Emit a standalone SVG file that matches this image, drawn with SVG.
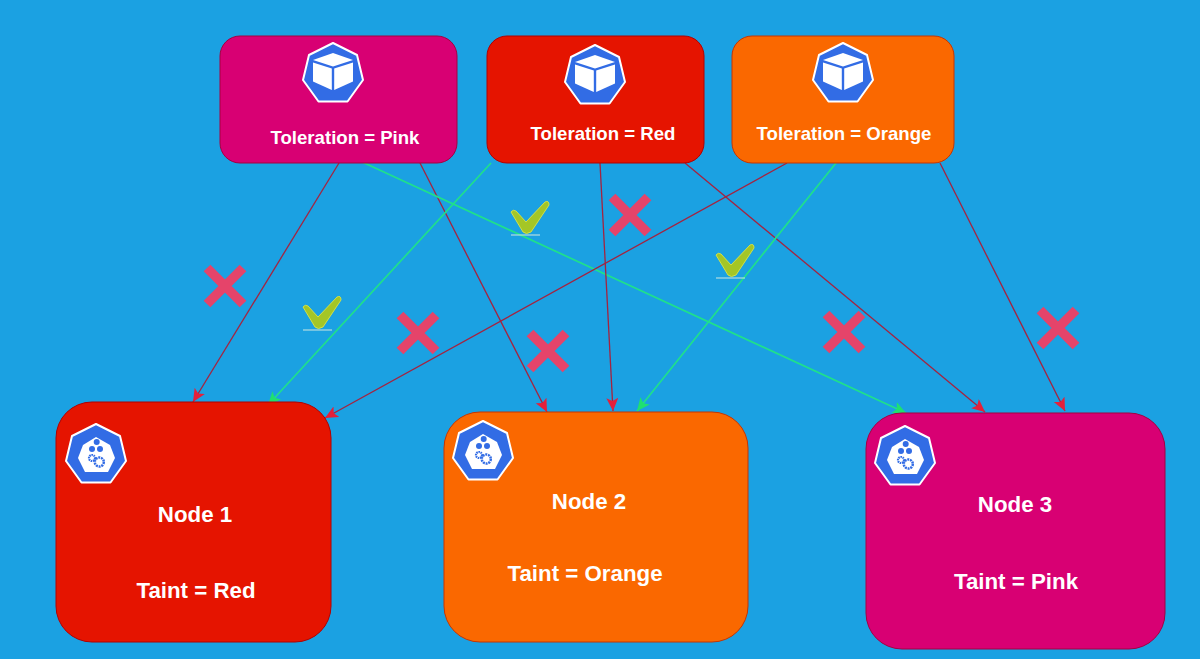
<svg xmlns="http://www.w3.org/2000/svg" width="1200" height="659" viewBox="0 0 1200 659">
<style>
.t{font-family:"Liberation Sans",Arial,sans-serif;font-weight:700;fill:#fff;text-anchor:middle}
.s{font-size:18.600px}.b{font-size:22.300px}
.red{stroke:#a5233f;stroke-width:1.300;fill:none;marker-end:url(#ar)}
.grn{stroke:#1fe08c;stroke-width:1.700;fill:none;marker-end:url(#ag)}
.x{stroke:#e5446a;stroke-width:9.500;fill:none}
.hp{fill:#326ce5;stroke:#fff;stroke-width:2;stroke-linejoin:round}
</style>
<defs>
<marker id="ar" markerUnits="userSpaceOnUse" markerWidth="16" markerHeight="14" refX="13" refY="6" orient="auto"><path d="M0 0L13 6L0 12L3 6Z" fill="#e5203a"/></marker>
<marker id="ag" markerUnits="userSpaceOnUse" markerWidth="16" markerHeight="14" refX="13" refY="6" orient="auto"><path d="M0 0L13 6L0 12L3 6Z" fill="#1fe070"/></marker>
<g id="pod">
<path class="hp" d="M0-30L24-18L30 7L14.500 28.500L-14.500 28.500L-30 7L-24-18Z"/>
<path d="M0-20L20-13L0-6.500L-20-13Z" fill="#fff"/>
<path d="M-20-10.500L-1.200-4.500L-1.200 17L-20 8.500Z" fill="#fff"/>
<path d="M20-10.500L1.200-4.500L1.200 17L20 8.500Z" fill="#fff"/>
</g>
<g id="nd">
<path class="hp" d="M0-30L24-18L30 7L14.500 28.500L-14.500 28.500L-30 7L-24-18Z"/>
<path d="M0-17L14-9L19 4L12 18L-11 18L-18 4L-13-9Z" fill="#fff"/>
<circle cx="0.700" cy="-12" r="3" fill="#326ce5"/><circle cx="-4" cy="-5" r="3" fill="#326ce5"/><circle cx="4" cy="-5" r="3" fill="#326ce5"/>
<circle cx="-4" cy="4" r="3" fill="none" stroke="#326ce5" stroke-width="2.200" stroke-dasharray="1.500 .7"/><circle cx="3.300" cy="8" r="4.500" fill="none" stroke="#326ce5" stroke-width="2.500" stroke-dasharray="2 .8"/>
</g>
<g id="chk">
<path d="M-18-7Q-16-10-13-8L-3 3L16-17Q20-19 20-14L2 13Q-3 16-6 13Z" fill="#a4c626" stroke="#cfe04a" stroke-width="1"/>
<path d="M-18 16H11" stroke="#cfe8e0" stroke-width="1"/>
</g>
<path id="xm" class="x" d="M-18-18L18 18M18-18L-18 18"/>
</defs>
<rect width="1200" height="659" fill="#1ba1e2"/>
<g id="connectors">
<path class="red" d="M339 163L193 402"/>
<path class="red" d="M420 163L547 412"/>
<path class="grn" d="M360 161L906 413"/>
<path class="grn" d="M491 163L268 405"/>
<path class="red" d="M600 163L613 411"/>
<path class="red" d="M685 163L985 412"/>
<path class="red" d="M787 163L325 418"/>
<path class="grn" d="M836 163L637 411"/>
<path class="red" d="M940 163L1065 411"/>
</g>
<g id="pod-pink"><rect x="220" y="36" width="237" height="127" rx="20" fill="#d80073" stroke="#a50040"/><use href="#pod" x="333" y="73"/><text class="t s" x="345" y="144">Toleration = Pink</text></g>
<g id="pod-red"><rect x="487" y="36" width="217" height="127" rx="20" fill="#e51400" stroke="#b20000"/><use href="#pod" x="595" y="75"/><text class="t s" x="603" y="140">Toleration = Red</text></g>
<g id="pod-orange"><rect x="732" y="36" width="222" height="127" rx="20" fill="#fa6800" stroke="#c73500"/><use href="#pod" x="843" y="73"/><text class="t s" x="844" y="140">Toleration = Orange</text></g>
<g id="node-1"><rect x="56" y="402" width="275" height="240" rx="36" fill="#e51400" stroke="#b20000"/><use href="#nd" x="96" y="454"/><text class="t b" x="195" y="522">Node 1</text><text class="t b" x="196" y="598">Taint = Red</text></g>
<g id="node-2"><rect x="444" y="412" width="304" height="230" rx="36" fill="#fa6800" stroke="#c73500"/><use href="#nd" x="483" y="451"/><text class="t b" x="589" y="509">Node 2</text><text class="t b" x="585" y="581">Taint = Orange</text></g>
<g id="node-3"><rect x="866" y="413" width="299" height="236" rx="36" fill="#d80073" stroke="#a50040"/><use href="#nd" x="905" y="456"/><text class="t b" x="1015" y="512">Node 3</text><text class="t b" x="1016" y="589">Taint = Pink</text></g>
<use href="#xm" x="225" y="286"/>
<use href="#xm" x="418" y="333"/>
<use href="#xm" x="548" y="351"/>
<use href="#xm" x="630" y="215"/>
<use href="#xm" x="844" y="332"/>
<use href="#xm" x="1058" y="328"/>
<use href="#chk" x="321" y="314"/>
<use href="#chk" x="529" y="219"/>
<use href="#chk" x="734" y="262"/>
</svg>
